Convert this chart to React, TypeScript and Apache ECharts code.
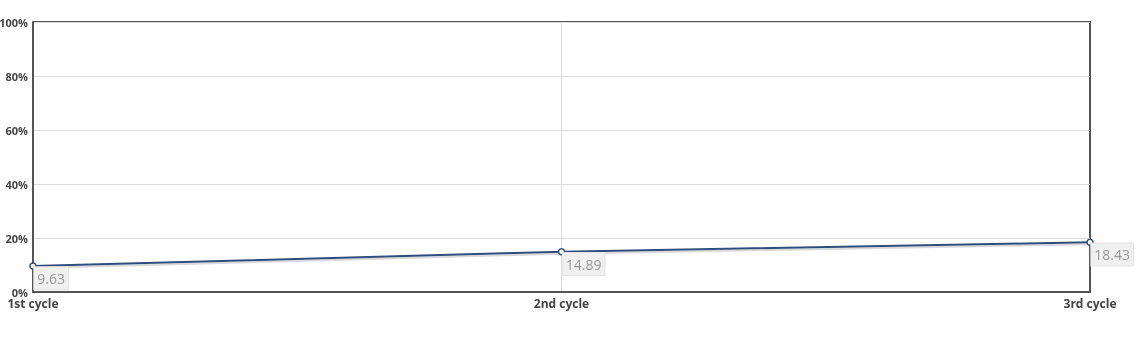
import React, { useEffect, useRef } from "react";
import * as echarts from "echarts";

const categories = ["1st cycle", "2nd cycle", "3rd cycle"];
const values = [9.63, 14.89, 18.43];
const yTicks = [0, 20, 40, 60, 80, 100];

export default function App() {
  const ref = useRef<HTMLDivElement>(null);
  useEffect(() => {
    const chart = echarts.init(ref.current!, undefined, { renderer: "svg" });
    chart.setOption({
      animation: false,
      grid: { left: 33, right: 55, top: 22, bottom: 45, show: false, outerBoundsMode: "none", containLabel: false },
      xAxis: {
        type: "category",
        data: categories,
        boundaryGap: false,
        axisLine: { show: true, lineStyle: { color: "#555", width: 2 } },
        axisTick: { show: false },
        axisLabel: {
          color: "#444",
          fontFamily: "Open Sans",
          fontWeight: "bold",
          fontSize: 12,
          margin: 5,
          formatter: (v: string) => v,
        },
        splitLine: {
          show: true,
          interval: (i: number) => i === 1,
          lineStyle: { color: "#ddd", width: 1 },
        },
      },
      yAxis: [
        {
          type: "value",
          min: yTicks[0],
          max: yTicks[yTicks.length - 1],
          interval: 20,
          axisLine: { show: true, lineStyle: { color: "#555", width: 2 } },
          axisTick: { show: false },
          axisLabel: {
            color: "#444",
            fontFamily: "Open Sans",
            fontWeight: "bold",
            fontSize: 11,
            margin: 5,
            formatter: "{value}%",
          },
          splitLine: { show: true, lineStyle: { color: "#ddd", width: 1 } },
        },
      ],
      graphic: [
        {
          type: "line",
          shape: { x1: 33, y1: 22, x2: 1090, y2: 22 },
          style: { stroke: "#555", lineWidth: 2 },
        },
        {
          type: "line",
          shape: { x1: 1090, y1: 21, x2: 1090, y2: 292 },
          style: { stroke: "#555", lineWidth: 2 },
        },
      ],
      series: [
        {
          type: "line",
          data: values,
          symbol: "circle",
          symbolSize: 6,
          showSymbol: true,
          itemStyle: { color: "#fff", borderColor: "#2d4d7c", borderWidth: 1.5 },
          lineStyle: {
            color: "#2d4d7c",
            width: 2,
            shadowColor: "rgba(0,0,0,0.15)",
            shadowBlur: 1,
            shadowOffsetY: 2,
          },
          label: {
            show: true,
            position: [5, 5],
            align: "left",
            verticalAlign: "top",
            color: "#999",
            fontFamily: "Open Sans",
            fontSize: 14,
            lineHeight: 14,
            backgroundColor: "#f0f0f0",
            borderColor: "#e4e4e4",
            borderWidth: 1,
            padding: [4, 3, 4, 3],
            formatter: (p: any) => p.value.toFixed(2),
          },
          z: 5,
        },
      ],
    });
    return () => chart.dispose();
  }, []);
  return (
    <div
      ref={ref}
      style={{ position: "fixed", left: 0, top: 0, width: 1145, height: 337 }}
    />
  );
}
